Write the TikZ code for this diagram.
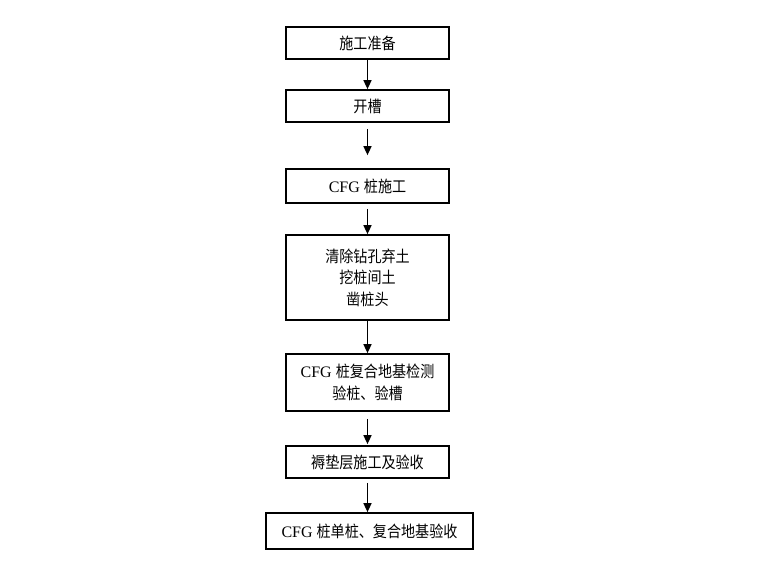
\documentclass[tikz,border=0pt]{standalone}
\usepackage{fontspec}
\setmainfont{Liberation Serif}
\newfontfamily\zhfont[FakeStretch=0.88]{Noto Sans CJK SC}
\newcommand{\zh}[1]{{\zhfont #1}}
\usetikzlibrary{arrows.meta}
\begin{document}
\begin{tikzpicture}[x=1pt,y=-1pt,
  flowbox/.style={draw=black,line width=1.7pt,inner sep=0pt,align=center,
    font=\fontsize{16}{21.5}\selectfont},
  arr/.style={draw=black,line width=1.4pt,-{Triangle[length=9pt,width=8pt]}}]
\useasboundingbox (0,0) rectangle (760,570);
\fill[white] (0,0) rectangle (760,570);
\node[flowbox,minimum width=163pt,minimum height=32pt] (b1) at (367.5,43) {\zh{施工准备}};
\node[flowbox,minimum width=163pt,minimum height=32pt] (b2) at (367.5,106) {\zh{开槽}};
\node[flowbox,minimum width=163pt,minimum height=34pt] (b3) at (367.5,186) {CFG \zh{桩施工}};
\node[flowbox,minimum width=163pt,minimum height=85pt] (b4) at (367.5,277.5) {\zh{清除钻孔弃土}\\\zh{挖桩间土}\\\zh{凿桩头}};
\node[flowbox,minimum width=163pt,minimum height=57pt] (b5) at (367.5,382.5) {CFG \zh{桩复合地基检测}\\\zh{验桩、验槽}};
\node[flowbox,minimum width=163pt,minimum height=32pt] (b6) at (367.5,462) {\zh{褥垫层施工及验收}};
\node[flowbox,minimum width=207pt,minimum height=36pt] (b7) at (369.5,531) {CFG \zh{桩单桩、复合地基验收}};
\draw[arr] (b1.south) -- (b2.north);
\draw[arr,shorten <=6pt,shorten >=13pt] (b2.south) -- (b3.north);
\draw[arr,shorten <=5pt] (b3.south) -- (b4.north);
\draw[arr] (b4.south) -- (b5.north);
\draw[arr,shorten <=7pt,shorten >=1pt] (b5.south) -- (b6.north);
\draw[arr,shorten <=4pt] (b6.south) -- (b6.south |- b7.north);
\end{tikzpicture}
\end{document}
